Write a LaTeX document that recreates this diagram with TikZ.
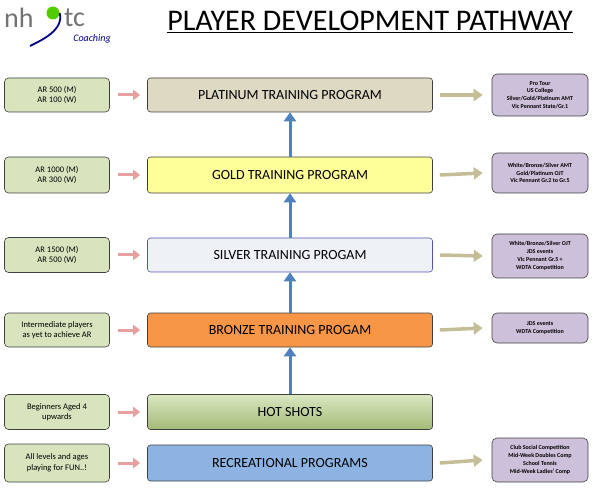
\documentclass[tikz,border=0pt]{standalone}
\usepackage{fontspec}
\setmainfont{Carlito}
\usetikzlibrary{arrows.meta}
\definecolor{lgreen}{HTML}{D7E4BD}
\definecolor{plat}{HTML}{DDD9C3}
\definecolor{gold}{HTML}{FFFF99}
\definecolor{silv}{HTML}{EEF2F7}
\definecolor{bron}{HTML}{F79646}
\definecolor{hots}{HTML}{B5CF84}
\definecolor{recr}{HTML}{8DB3E2}
\definecolor{purp}{HTML}{CCC0DA}
\definecolor{pinka}{HTML}{E6A0A0}
\definecolor{olivea}{HTML}{C4BD97}
\definecolor{bluea}{HTML}{4F81BD}
\begin{document}
\begin{tikzpicture}[x=1pt,y=-1pt,
 lbox/.style={draw=black!75,fill=lgreen,rounded corners=4pt,minimum width=105pt,align=center,font=\fontsize{8.5}{10.5}\selectfont,line width=0.6pt},
 mbox/.style={draw=black!75,rounded corners=3pt,minimum width=285pt,font=\fontsize{14}{16}\selectfont,line width=0.6pt},
 rbox/.style={draw=black!75,fill=purp,rounded corners=5pt,minimum width=96pt,align=center,font=\bfseries\fontsize{6}{7.8}\selectfont,line width=0.6pt},
 parr/.style={-{Triangle[length=7pt,width=10pt]},line width=3pt,pinka},
 oarr/.style={-{Triangle[length=9pt,width=12pt]},line width=3.5pt,olivea},
 barr/.style={-{Triangle[length=9pt,width=12pt]},line width=3pt,bluea}]
\useasboundingbox (0,0) rectangle (600,489);
% logo
\node[font=\fontsize{28}{28}\selectfont,text=black!55,anchor=west,inner sep=0] (nh) at (4,18) {nh};
\node[circle,fill=green!60!yellow!80!black,minimum size=13pt,inner sep=0] (ball) at (53,13) {};
\draw[blue!50!black,line width=1.8pt] (ball.east) .. controls (64,30) and (42,40) .. (30,46);
\node[font=\fontsize{28}{28}\selectfont,text=black!55,anchor=west,inner sep=0] (tc) at (64,18) {tc};
\node[font=\itshape\fontsize{10}{10}\selectfont,text=blue!55!black,inner sep=1pt] (coach) at (92,39) {Coaching};
% title
\node[font=\fontsize{30}{32}\selectfont] (title) at (370,22) {\underline{PLAYER DEVELOPMENT PATHWAY}};
% main boxes
\node[mbox,fill=plat,minimum height=34pt] (m1) at (290,95) {PLATINUM TRAINING PROGRAM};
\node[mbox,fill=gold,minimum height=36pt] (m2) at (290,175) {GOLD TRAINING PROGRAM};
\node[mbox,fill=silv,draw=blue!35!gray,minimum height=34pt] (m3) at (290,255) {SILVER TRAINING PROGAM};
\node[mbox,fill=bron,minimum height=34pt] (m4) at (290,330) {BRONZE TRAINING PROGAM};
\node[mbox,top color=hots!50!white,bottom color=hots!90!black,minimum height=35pt] (m5) at (290,412) {HOT SHOTS};
\node[mbox,fill=recr,minimum height=36pt] (m6) at (290,463) {RECREATIONAL PROGRAMS};
% left boxes
\node[lbox,minimum height=34pt] (l1) at (57,95) {AR 500 (M)\\AR 100 (W)};
\node[lbox,minimum height=36pt] (l2) at (57,175) {AR 1000 (M)\\AR 300 (W)};
\node[lbox,minimum height=35pt] (l3) at (57,255) {AR 1500 (M)\\AR 500 (W)};
\node[lbox,minimum height=34pt] (l4) at (57,330) {Intermediate players\\as yet to achieve AR};
\node[lbox,minimum height=35pt] (l5) at (57,412) {Beginners Aged 4\\upwards};
\node[lbox,minimum height=38pt] (l6) at (57,463) {All levels and ages\\playing for FUN..!};
% right boxes
\node[rbox,minimum height=42pt] (r1) at (540,95) {Pro Tour\\US College\\Silver/Gold/Platinum AMT\\Vic Pennant State/Gr.1};
\node[rbox,minimum height=40pt] (r2) at (540,173) {White/Bronze/Silver AMT\\Gold/Platinum OJT\\Vic Pennant Gr.2 to Gr.5};
\node[rbox,minimum height=44pt] (r3) at (540,256) {White/Bronze/Silver OJT\\JDS events\\Vic Pennant Gr.5 +\\WDTA Competition};
\node[rbox,minimum height=30pt] (r4) at (540,328) {JDS events\\WDTA Competition};
\node[rbox,minimum height=44pt] (r6) at (540,460) {Club Social Competition\\Mid-Week Doubles Comp\\School Tennis\\Mid-Week Ladies' Comp};
% arrows
\foreach \i in {1,...,6}{\draw[parr] ([xshift=8pt]l\i.east) -- ([xshift=-7pt]m\i.west);}
\foreach \i in {1,2,3,4,6}{\draw[oarr] ([xshift=7pt]m\i.east) -- ([xshift=-9pt]r\i.west);}
\draw[barr] (m5.north) -- (m4.south);
\draw[barr] (m4.north) -- (m3.south);
\draw[barr] (m3.north) -- (m2.south);
\draw[barr] (m2.north) -- (m1.south);
\end{tikzpicture}
\end{document}
